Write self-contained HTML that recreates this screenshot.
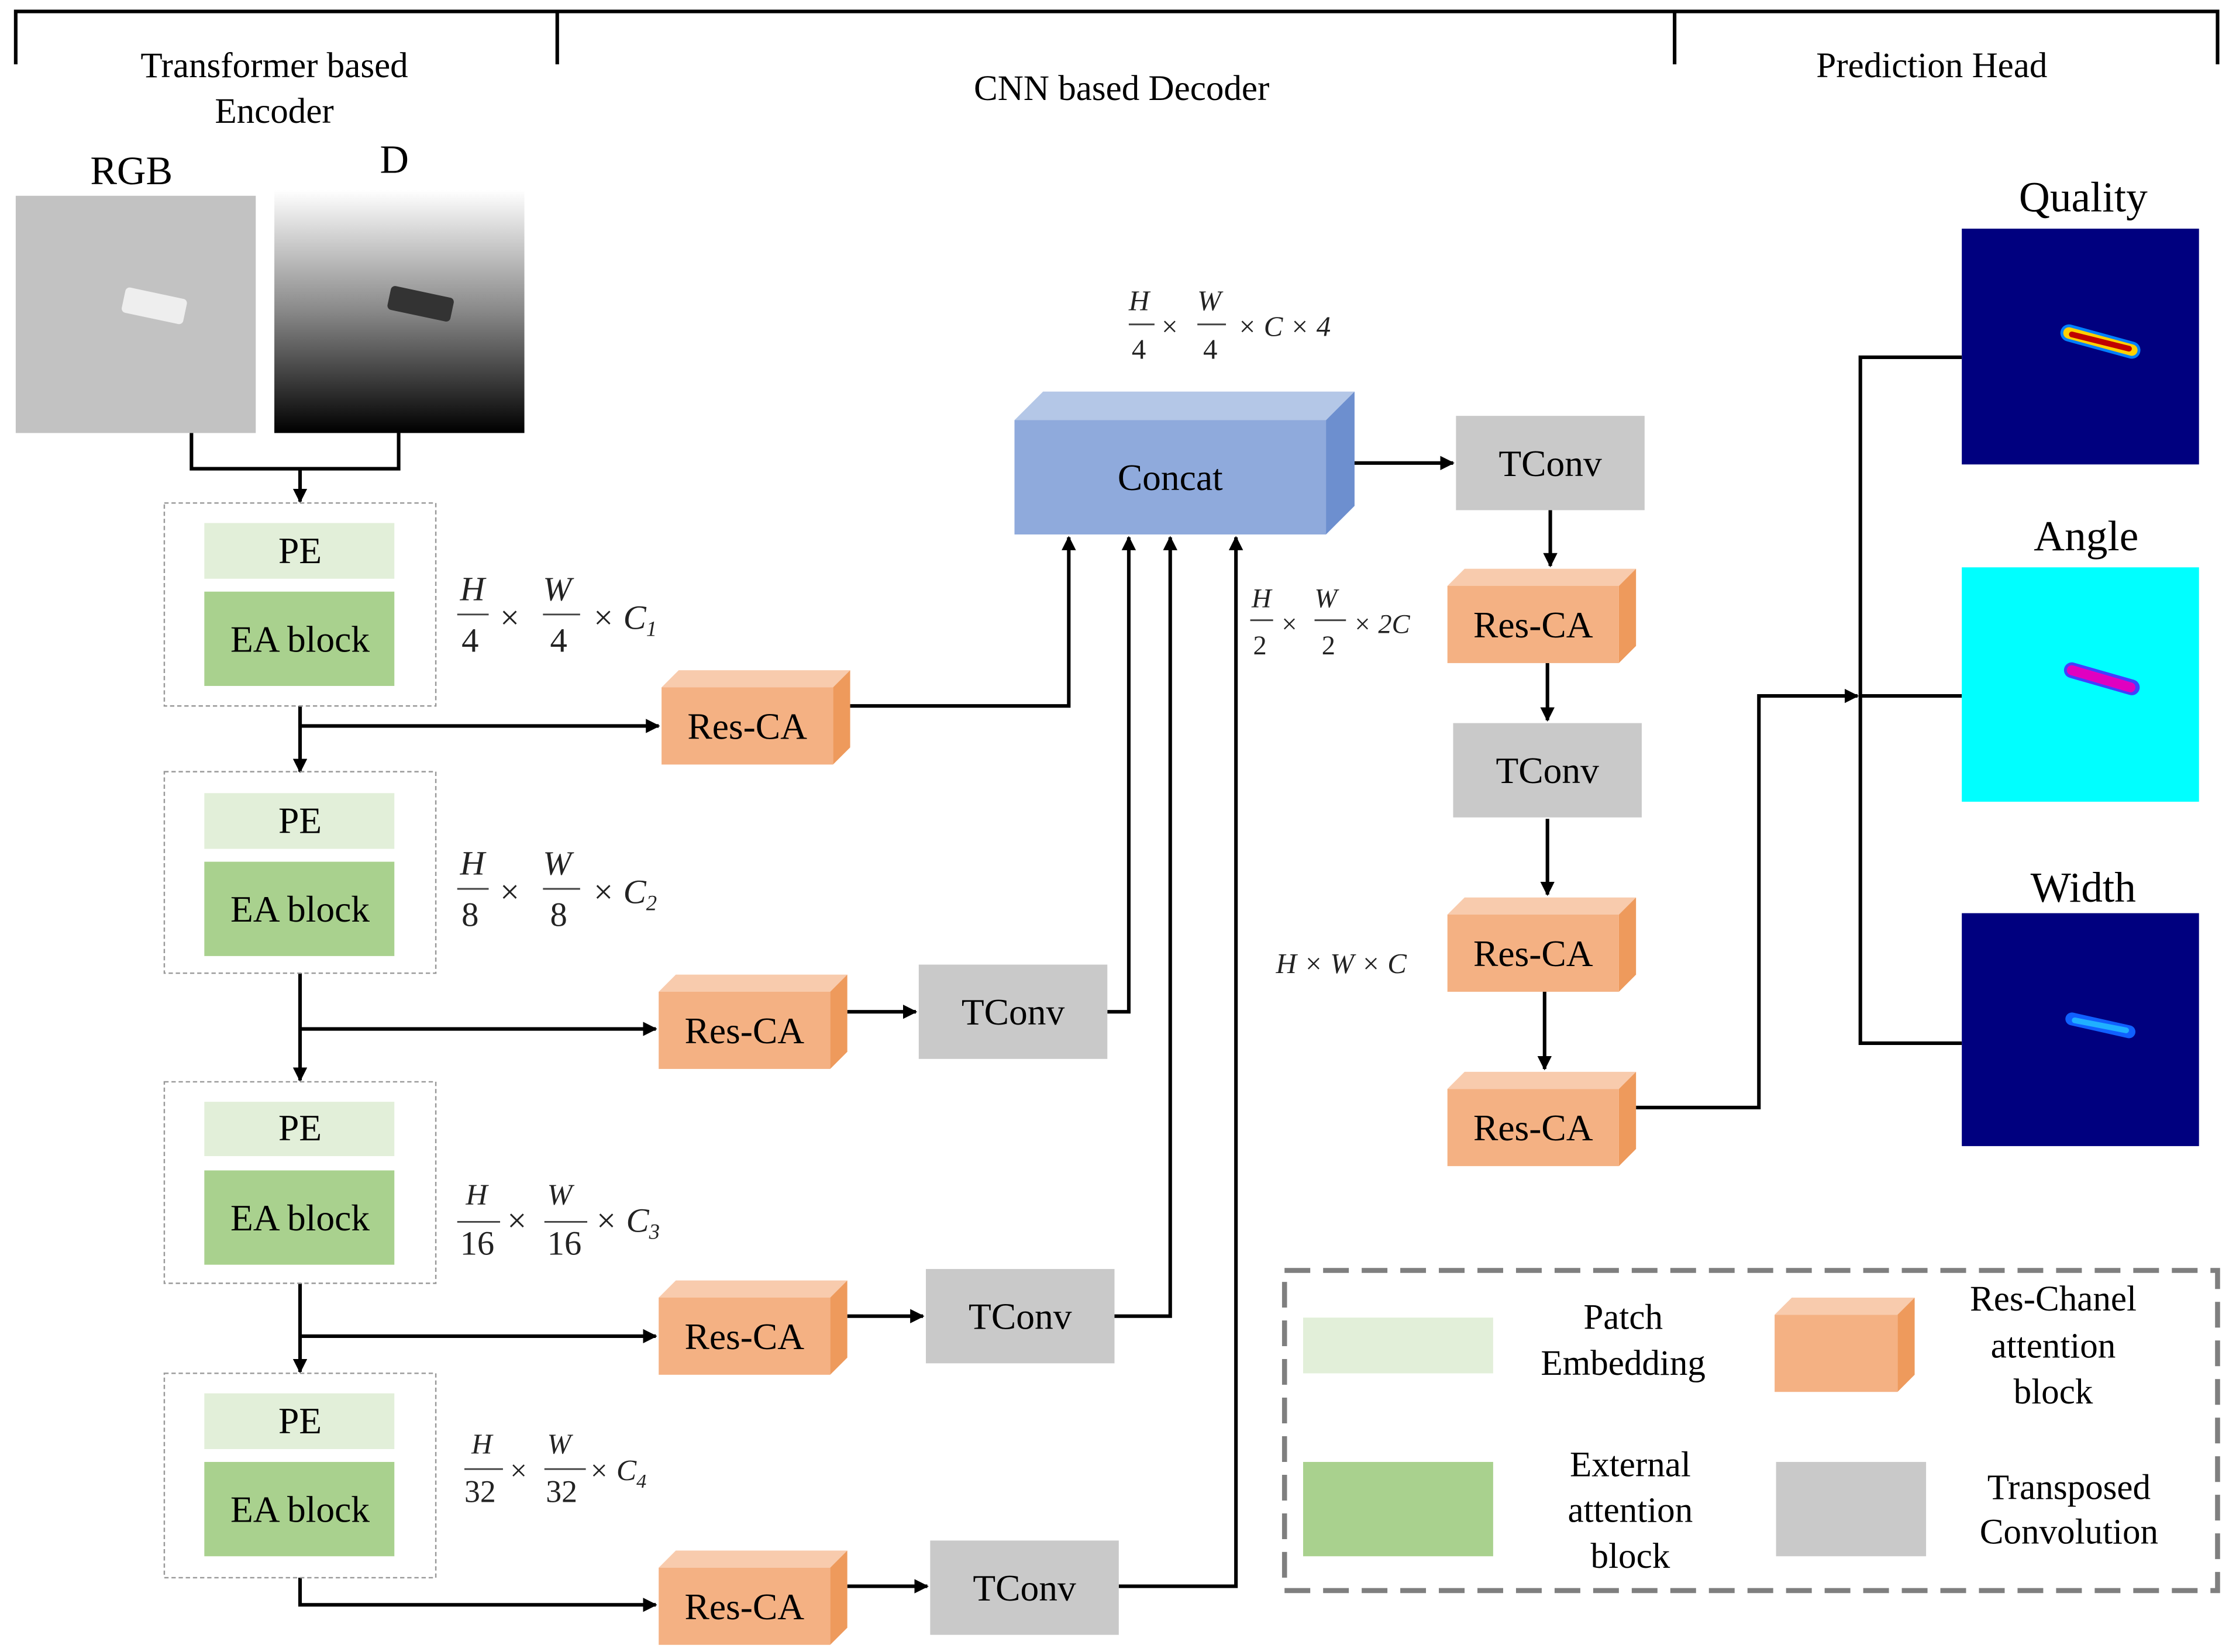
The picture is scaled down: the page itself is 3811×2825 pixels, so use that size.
<!DOCTYPE html>
<html><head><meta charset="utf-8"><style>html,body{margin:0;padding:0;background:#fff}svg{display:block}</style></head>
<body>
<svg width="3811" height="2825" viewBox="0 0 1560 1156" preserveAspectRatio="none" xmlns="http://www.w3.org/2000/svg" font-family="Liberation Serif, serif">
<defs>
<marker id="a" markerWidth="10" markerHeight="10" refX="9" refY="5" orient="auto" markerUnits="userSpaceOnUse" viewBox="0 0 10 10"><path d="M0,0L10,5L0,10z" fill="#000"/></marker>
<linearGradient id="dg" x1="0" y1="0" x2="0" y2="1"><stop offset="0" stop-color="#fff"/><stop offset="0.5" stop-color="#888"/><stop offset="1" stop-color="#000"/></linearGradient>
<g id="rc"><path d="M0,12L12,0L132,0L120,12z" fill="#f8cbad"/><path d="M120,12L132,0L132,54L120,66z" fill="#ee9a5c"/><rect x="0" y="12" width="120" height="54" fill="#f4b183"/><text x="60" y="48" font-size="26" text-anchor="middle">Res-CA</text></g>
<g id="tc"><rect x="0" y="0" width="132" height="66" fill="#c9c9c9"/><text x="66" y="42" font-size="26" text-anchor="middle">TConv</text></g>
</defs>
<g stroke="#000" stroke-width="2.5" fill="none">
<path d="M11,45V8H1552V45M390,8V45M1172,8V45"/>
</g>
<g font-size="25" text-anchor="middle">
<text x="192" y="54">Transformer based</text><text x="192" y="86">Encoder</text>
<text x="785" y="70">CNN  based Decoder</text>
<text x="1352" y="54">Prediction Head</text>
<text x="92" y="129" font-size="28">RGB</text><text x="276" y="121" font-size="28">D</text>
<text x="1458" y="148" font-size="30">Quality</text>
<text x="1460" y="385" font-size="30">Angle</text>
<text x="1458" y="631" font-size="30">Width</text>
</g>
<rect x="11" y="137" width="168" height="166" fill="#c2c2c2"/>
<rect x="86" y="205" width="44" height="18" rx="3" fill="#eeeeee" transform="rotate(12 108 214)"/>
<rect x="192" y="133" width="175" height="170" fill="url(#dg)"/>
<rect x="272" y="204" width="45" height="17" rx="3" fill="#333" transform="rotate(12 294 212)"/>
<g stroke="#000" stroke-width="2.5" fill="none">
<path d="M134,303V328H279V303"/><path d="M210,328V351" marker-end="url(#a)"/>
<path d="M210,494V540" marker-end="url(#a)"/><path d="M210,681V756" marker-end="url(#a)"/><path d="M210,898V960" marker-end="url(#a)"/>
<path d="M210,494V508H461" marker-end="url(#a)"/>
<path d="M210,720H459" marker-end="url(#a)"/>
<path d="M210,935H459" marker-end="url(#a)"/>
<path d="M210,1104V1123H459" marker-end="url(#a)"/>
<path d="M595,494H748V376" marker-end="url(#a)"/>
<path d="M593,708H641" marker-end="url(#a)"/><path d="M775,708H790V376" marker-end="url(#a)"/>
<path d="M593,921H646" marker-end="url(#a)"/><path d="M780,921H819V376" marker-end="url(#a)"/>
<path d="M593,1110H649" marker-end="url(#a)"/><path d="M783,1110H865V376" marker-end="url(#a)"/>
<path d="M946,324H1017" marker-end="url(#a)"/>
<path d="M1085,357V396" marker-end="url(#a)"/>
<path d="M1083,464V504" marker-end="url(#a)"/>
<path d="M1083,573V626" marker-end="url(#a)"/>
<path d="M1081,694V748" marker-end="url(#a)"/>
<path d="M1145,775H1231V487H1300" marker-end="url(#a)"/>
<path d="M1373,250H1302V730H1373M1302,487H1373"/>
</g>
<g stroke="#999" stroke-width="1" stroke-dasharray="3,2" fill="none">
<rect x="115" y="352" width="190" height="142"/><rect x="115" y="540" width="190" height="141"/>
<rect x="115" y="757" width="190" height="141"/><rect x="115" y="961" width="190" height="143"/>
</g>
<g font-size="26" text-anchor="middle">
<rect x="143" y="366" width="133" height="39" fill="#e2efd9"/><text x="210" y="394">PE</text>
<rect x="143" y="414" width="133" height="66" fill="#a9d18e"/><text x="210" y="456">EA block</text>
<rect x="143" y="555" width="133" height="39" fill="#e2efd9"/><text x="210" y="583">PE</text>
<rect x="143" y="603" width="133" height="66" fill="#a9d18e"/><text x="210" y="645">EA block</text>
<rect x="143" y="771" width="133" height="38" fill="#e2efd9"/><text x="210" y="798">PE</text>
<rect x="143" y="819" width="133" height="66" fill="#a9d18e"/><text x="210" y="861">EA block</text>
<rect x="143" y="975" width="133" height="39" fill="#e2efd9"/><text x="210" y="1003">PE</text>
<rect x="143" y="1023" width="133" height="66" fill="#a9d18e"/><text x="210" y="1065">EA block</text>
</g>
<use href="#rc" x="463" y="469"/><use href="#rc" x="461" y="682"/><use href="#rc" x="461" y="896"/><use href="#rc" x="461" y="1085"/>
<use href="#rc" x="1013" y="398"/><use href="#rc" x="1013" y="628"/><use href="#rc" x="1013" y="750"/>
<use href="#tc" x="643" y="675"/><use href="#tc" x="648" y="888"/><use href="#tc" x="651" y="1078"/>
<use href="#tc" x="1019" y="291"/><use href="#tc" x="1017" y="506"/>
<path d="M710,294L730,274L948,274L928,294z" fill="#b4c7e7"/><path d="M928,294L948,274L948,354L928,374z" fill="#6d8fcf"/>
<rect x="710" y="294" width="218" height="80" fill="#8faadc"/><text x="819" y="343" font-size="26" text-anchor="middle">Concat</text>
<g font-style="italic" font-size="24" fill="#222">
<g stroke="#444" stroke-width="1.2"><path d="M320,430H342M380,430H406M320,622H342M380,622H406M320,855H350M381,855H411M325,1028H352M381,1028H410M790,227H808M838,227H858M875,434H891M920,434H942"/></g>
<text x="322" y="420">H</text><text x="380" y="420">W</text><text x="323" y="456" font-style="normal">4</text><text x="385" y="456" font-style="normal">4</text><text x="350" y="440" font-style="normal">×</text><text x="414" y="440">× C<tspan font-size="15" dy="5">1</tspan></text>
<text x="322" y="612">H</text><text x="380" y="612">W</text><text x="323" y="648" font-style="normal">8</text><text x="385" y="648" font-style="normal">8</text><text x="350" y="632" font-style="normal">×</text><text x="414" y="632">× C<tspan font-size="15" dy="5">2</tspan></text>
<text x="326" y="843" font-size="21">H</text><text x="383" y="843" font-size="21">W</text><text x="322" y="878" font-style="normal">16</text><text x="383" y="878" font-style="normal">16</text><text x="355" y="862" font-style="normal">×</text><text x="416" y="862">× C<tspan font-size="15" dy="5">3</tspan></text>
<text x="330" y="1017" font-size="20">H</text><text x="383" y="1017" font-size="20">W</text><text x="325" y="1051" font-size="22" font-style="normal">32</text><text x="382" y="1051" font-size="22" font-style="normal">32</text><text x="357" y="1036" font-style="normal" font-size="21">×</text><text x="412" y="1036" font-size="21">× C<tspan font-size="14" dy="5">4</tspan></text>
<text x="790" y="217" font-size="20">H</text><text x="838" y="217" font-size="20">W</text><text x="792" y="251" font-size="20" font-style="normal">4</text><text x="842" y="251" font-size="20" font-style="normal">4</text><text x="813" y="235" font-size="20" font-style="normal">×</text><text x="866" y="235" font-size="20">× C × 4</text>
<text x="876" y="425" font-size="19">H</text><text x="920" y="425" font-size="19">W</text><text x="877" y="458" font-size="19" font-style="normal">2</text><text x="925" y="458" font-size="19" font-style="normal">2</text><text x="897" y="443" font-size="19" font-style="normal">×</text><text x="947" y="443" font-size="19">× 2C</text>
<text x="893" y="681" font-size="20">H × W × C</text>
</g>
<rect x="1373" y="160" width="166" height="165" fill="#00007f"/>
<path d="M1448,233L1492,245" stroke="#0080ff" stroke-width="12" stroke-linecap="round"/><path d="M1448,233L1492,245" stroke="#ffd000" stroke-width="8" stroke-linecap="round"/><path d="M1450,234L1490,244" stroke="#c00000" stroke-width="4" stroke-linecap="round"/>
<rect x="1373" y="397" width="166" height="164" fill="#00ffff"/>
<path d="M1450,469L1492,481" stroke="#4040ff" stroke-width="11" stroke-linecap="round"/><path d="M1450,469L1491,481" stroke="#e000c0" stroke-width="7" stroke-linecap="round"/>
<rect x="1373" y="639" width="166" height="163" fill="#00007f"/>
<path d="M1450,713L1490,722" stroke="#1060ff" stroke-width="9" stroke-linecap="round"/><path d="M1452,714L1488,721" stroke="#20b0ff" stroke-width="4" stroke-linecap="round"/>
<rect x="899" y="889" width="653" height="224" fill="none" stroke="#7f7f7f" stroke-width="3.5" stroke-dasharray="18,9"/>
<rect x="912" y="922" width="133" height="39" fill="#e2efd9"/>
<rect x="912" y="1023" width="133" height="66" fill="#a9d18e"/>
<rect x="1243" y="1023" width="105" height="66" fill="#c9c9c9"/>
<path d="M1242,920L1254,908L1340,908L1328,920z" fill="#f8cbad"/><path d="M1328,920L1340,908L1340,962L1328,974z" fill="#ee9a5c"/><rect x="1242" y="920" width="86" height="54" fill="#f4b183"/>
<g font-size="25" text-anchor="middle">
<text x="1136" y="930">Patch</text><text x="1136" y="962">Embedding</text>
<text x="1141" y="1033">External</text><text x="1141" y="1065">attention</text><text x="1141" y="1097">block</text>
<text x="1437" y="917">Res-Chanel</text><text x="1437" y="950">attention</text><text x="1437" y="982">block</text>
<text x="1448" y="1049">Transposed</text><text x="1448" y="1080">Convolution</text>
</g>
</svg>
</body></html>
